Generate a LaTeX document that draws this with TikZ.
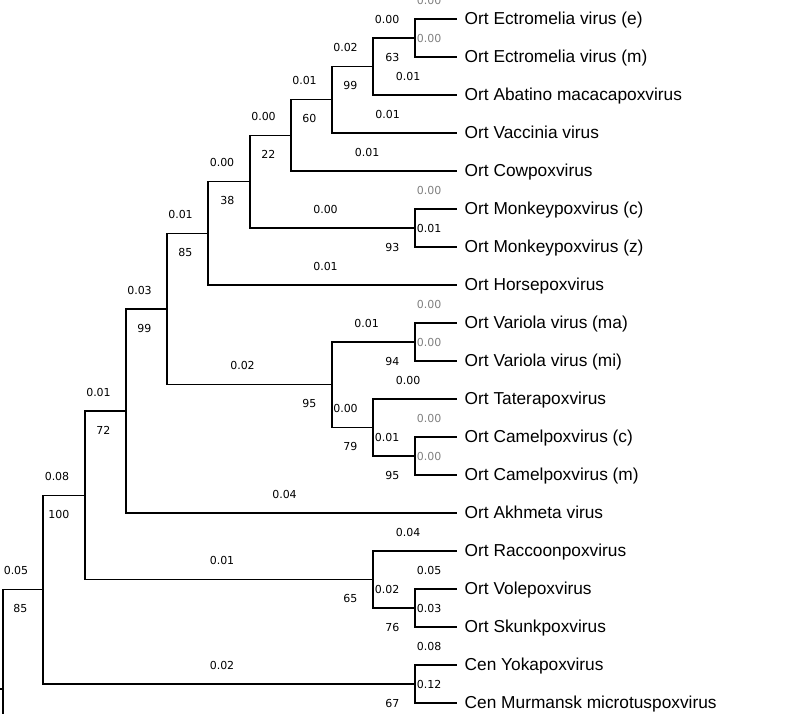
\documentclass[tikz,border=0pt]{standalone}
\usepackage{fontspec}
\setmainfont{Liberation Sans}
\newfontfamily\numfont{DejaVu Sans}
\usetikzlibrary{calc, positioning}
\definecolor{lengrey}{RGB}{128,128,128}

% inner node: name, x, first child, second child
\newcommand\mknode[4]{\path let \p1=(#3), \p2=(#4) in coordinate (#1) at (#2pt,{(\y1+\y2)/2});}
% branch from parent to child, length written above it
\newcommand\addbranch[4][black]{%
  \draw (#2) |- (#3);
  \node[blen, text=#1] (len-#3) at ($(#2 |- #3)!.5!(#3) + (-7,-18.8)$) {#4};}
\newcommand\addboot[2]{\node[bval] (bs-#1) at ($(#1) + (-15,19)$) {#2};}

\begin{document}
\begin{tikzpicture}[x=1pt, y=-1pt, line width=1.4pt,
  leaf/.style={inner sep=0pt, text height=12.5pt, text depth=2pt, font=\fontsize{17.3}{20}\selectfont},
  blen/.style={inner sep=0pt, font=\numfont\fontsize{11}{13}\selectfont},
  bval/.style={blen, anchor=east}]
  \useasboundingbox (0,0) rectangle (802,713);
  \clip (0,0) rectangle (802,713);
  \foreach \nm [count=\i from 0] in {Ort Ectromelia virus (e), Ort Ectromelia virus (m),
    Ort Abatino macacapoxvirus, Ort Vaccinia virus, Ort Cowpoxvirus,
    Ort Monkeypoxvirus (c), Ort Monkeypoxvirus (z), Ort Horsepoxvirus,
    Ort Variola virus (ma), Ort Variola virus (mi), Ort Taterapoxvirus,
    Ort Camelpoxvirus (c), Ort Camelpoxvirus (m), Ort Akhmeta virus,
    Ort Raccoonpoxvirus, Ort Volepoxvirus, Ort Skunkpoxvirus,
    Cen Yokapoxvirus, Cen Murmansk microtuspoxvirus} {
    \coordinate (t\i) at (457,{19+38*\i});
    \node[leaf, right=7pt of t\i] (l\i) {\nm};
  }
  \mknode{nEct}{415}{t0}{t1}
  \mknode{nAba}{373}{nEct}{t2}
  \mknode{nVac}{332}{nAba}{t3}
  \mknode{nCow}{291}{nVac}{t4}
  \mknode{nMon}{415}{t5}{t6}
  \mknode{nMpx}{250}{nCow}{nMon}
  \mknode{nHor}{208}{nMpx}{t7}
  \mknode{nVar}{415}{t8}{t9}
  \mknode{nCam}{415}{t11}{t12}
  \mknode{nTat}{373}{t10}{nCam}
  \mknode{nVT}{332}{nVar}{nTat}
  \mknode{nOrt}{167}{nHor}{nVT}
  \mknode{nAkh}{126}{nOrt}{t13}
  \mknode{nVol}{415}{t15}{t16}
  \mknode{nRac}{373}{t14}{nVol}
  \mknode{nNA}{85}{nAkh}{nRac}
  \mknode{nCen}{415}{t17}{t18}
  \mknode{nAll}{43}{nNA}{nCen}
  \coordinate (root) at (3,689);
  \coordinate (rootin) at (-10,689);
  \coordinate (rootout) at (3,800);
  \draw (rootin) -| (rootout);

  \addbranch[lengrey]{nEct}{t0}{0.00}
  \addbranch[lengrey]{nEct}{t1}{0.00}
  \addbranch{nAba}{nEct}{0.00}
  \addbranch{nAba}{t2}{0.01}
  \addbranch{nVac}{nAba}{0.02}
  \addbranch{nVac}{t3}{0.01}
  \addbranch{nCow}{nVac}{0.01}
  \addbranch{nCow}{t4}{0.01}
  \addbranch[lengrey]{nMon}{t5}{0.00}
  \addbranch{nMon}{t6}{0.01}
  \addbranch{nMpx}{nCow}{0.00}
  \addbranch{nMpx}{nMon}{0.00}
  \addbranch{nHor}{nMpx}{0.00}
  \addbranch{nHor}{t7}{0.01}
  \addbranch[lengrey]{nVar}{t8}{0.00}
  \addbranch[lengrey]{nVar}{t9}{0.00}
  \addbranch[lengrey]{nCam}{t11}{0.00}
  \addbranch[lengrey]{nCam}{t12}{0.00}
  \addbranch{nTat}{t10}{0.00}
  \addbranch{nTat}{nCam}{0.01}
  \addbranch{nVT}{nVar}{0.01}
  \addbranch{nVT}{nTat}{0.00}
  \addbranch{nOrt}{nHor}{0.01}
  \addbranch{nOrt}{nVT}{0.02}
  \addbranch{nAkh}{nOrt}{0.03}
  \addbranch{nAkh}{t13}{0.04}
  \addbranch{nVol}{t15}{0.05}
  \addbranch{nVol}{t16}{0.03}
  \addbranch{nRac}{t14}{0.04}
  \addbranch{nRac}{nVol}{0.02}
  \addbranch{nNA}{nAkh}{0.01}
  \addbranch{nNA}{nRac}{0.01}
  \addbranch{nCen}{t17}{0.08}
  \addbranch{nCen}{t18}{0.12}
  \addbranch{nAll}{nNA}{0.08}
  \addbranch{nAll}{nCen}{0.02}
  \addbranch{root}{nAll}{0.05}

  \addboot{nEct}{63}
  \addboot{nAba}{99}
  \addboot{nVac}{60}
  \addboot{nCow}{22}
  \addboot{nMon}{93}
  \addboot{nMpx}{38}
  \addboot{nHor}{85}
  \addboot{nVar}{94}
  \addboot{nCam}{95}
  \addboot{nTat}{79}
  \addboot{nVT}{95}
  \addboot{nOrt}{99}
  \addboot{nAkh}{72}
  \addboot{nVol}{76}
  \addboot{nRac}{65}
  \addboot{nNA}{100}
  \addboot{nCen}{67}
  \addboot{nAll}{85}
\end{tikzpicture}
\end{document}
